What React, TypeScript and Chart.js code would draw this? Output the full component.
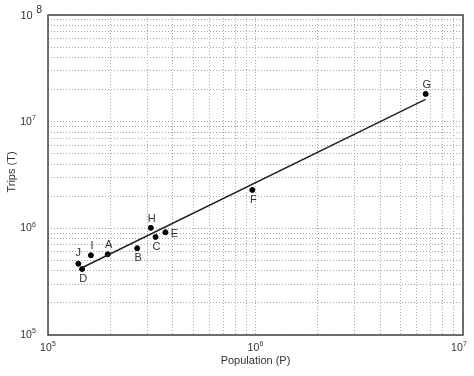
import React, { useEffect, useRef } from "react";
import { Chart, registerables } from "chart.js";

Chart.register(...registerables);

const cities = ["J", "D", "I", "A", "B", "H", "C", "E", "F", "G"];
const population = [1.4e5, 1.46e5, 1.61e5, 1.94e5, 2.69e5, 3.13e5, 3.3e5, 3.68e5, 9.65e5, 6.61e6];
const trips = [4.66e5, 4.16e5, 5.59e5, 5.71e5, 6.5e5, 1.01e6, 8.3e5, 9.18e5, 2.29e6, 1.82e7];
const labelSide = ["aboveLeft", "below", "above", "above", "below", "above", "below", "right", "below", "above"];
const fitPopulation = [1.45e5, 6.6e6];
const fitTrips = [4.25e5, 1.62e7];
const xDecades = [1e5, 1e6, 1e7];
const yDecades = [1e5, 1e6, 1e7, 1e8];
const xTitle = "Population (P)";
const yTitle = "Trips (T)";

const FONT = "'Liberation Sans', Arial, sans-serif";
const TEXT = "#333";

function minorTicks(decades: number[]) {
  const out: { value: number }[] = [];
  for (let i = 0; i < decades.length; i++) {
    out.push({ value: decades[i] });
    if (i < decades.length - 1) {
      for (let m = 2; m <= 9; m++) out.push({ value: decades[i] * m });
    }
  }
  return out;
}

function drawPow(ctx: CanvasRenderingContext2D, value: number, x: number, y: number, align: "center" | "right", bigSup = false) {
  const exp = String(Math.round(Math.log10(value)));
  const baseFont = bigSup ? `11px ${FONT}` : `10.5px ${FONT}`;
  ctx.font = baseFont;
  const baseW = ctx.measureText("10").width;
  const supFont = bigSup ? `10.5px ${FONT}` : `7px ${FONT}`;
  ctx.font = supFont;
  const gap = bigSup ? 3.5 : 0.3;
  const supW = ctx.measureText(exp).width;
  const total = baseW + gap + supW;
  const startX = align === "center" ? x - total / 2 : x - total;
  ctx.textBaseline = "middle";
  ctx.textAlign = "left";
  ctx.fillStyle = TEXT;
  ctx.font = baseFont;
  ctx.fillText("10", startX, y);
  ctx.font = supFont;
  ctx.fillText(exp, startX + baseW + gap, y - (bigSup ? 6 : 3.5));
}

const overlay = {
  id: "overlay",
  afterDraw(chart: any) {
    const { ctx, chartArea: a, scales } = chart;
    const xs = scales.x;
    const ys = scales.y;
    ctx.save();
    ctx.setLineDash([]);
    ctx.strokeStyle = "#444";
    ctx.lineWidth = 1.5;
    ctx.strokeRect(a.left, a.top, a.right - a.left, a.bottom - a.top);

    xDecades.forEach((v, i) => {
      const px = xs.getPixelForValue(v) - (i === xDecades.length - 1 ? 4 : 0);
      drawPow(ctx, v, px, a.bottom + 13, "center");
    });
    yDecades.forEach((v, i) => {
      const py = ys.getPixelForValue(v);
      const last = i === yDecades.length - 1;
      drawPow(ctx, v, last ? 42 : 36, last ? py + 1 : py, "right", last);
    });

    ctx.fillStyle = TEXT;
    ctx.font = `11px ${FONT}`;
    ctx.textAlign = "center";
    ctx.textBaseline = "middle";
    ctx.fillText(xTitle, (a.left + a.right) / 2, a.bottom + 26);
    ctx.save();
    ctx.translate(12, 172);
    ctx.rotate(-Math.PI / 2);
    ctx.fillText(yTitle, 0, 0);
    ctx.restore();

    ctx.font = `11px ${FONT}`;
    cities.forEach((c, i) => {
      const px = xs.getPixelForValue(population[i]);
      const py = ys.getPixelForValue(trips[i]);
      let dx = 0, dy = 0;
      switch (labelSide[i]) {
        case "above": dx = 1; dy = -9; break;
        case "aboveLeft": dx = 0; dy = -11; break;
        case "below": dx = 1; dy = 10; break;
        case "right": dx = 9; dy = 2; break;
      }
      ctx.fillText(c, px + dx, py + dy);
    });
    ctx.restore();
  },
};

const gridOpts = { color: "#a8a8a8", lineWidth: 1, drawTicks: false, tickLength: 0 };
const borderOpts = { display: false, dash: [1, 2] };

export default function App() {
  const ref = useRef<HTMLCanvasElement>(null);
  useEffect(() => {
    document.body.style.margin = "0";
    const chart = new Chart(ref.current!, {
      type: "scatter",
      data: {
        datasets: [
          {
            label: "fit",
            data: fitPopulation.map((x, i) => ({ x, y: fitTrips[i] })),
            showLine: true,
            borderColor: "#222",
            borderWidth: 1.5,
            pointRadius: 0,
          },
          {
            label: "cities",
            data: population.map((x, i) => ({ x, y: trips[i] })),
            backgroundColor: "#000",
            borderColor: "#000",
            pointRadius: 2.5,
          },
        ],
      },
      options: {
        responsive: false,
        animation: false,
        layout: { padding: { left: 48, top: 15, right: 11, bottom: 41 } },
        plugins: { legend: { display: false }, tooltip: { enabled: false } },
        scales: {
          x: {
            type: "logarithmic",
            min: 1e5,
            max: 1e7,
            afterBuildTicks: (s: any) => { s.ticks = minorTicks(xDecades); },
            afterFit: (s: any) => { s.height = 0; },
            ticks: { display: false },
            border: borderOpts,
            grid: gridOpts,
          } as any,
          y: {
            type: "logarithmic",
            min: 1e5,
            max: 1e8,
            afterBuildTicks: (s: any) => { s.ticks = minorTicks(yDecades); },
            afterFit: (s: any) => { s.width = 0; },
            ticks: { display: false },
            border: borderOpts,
            grid: gridOpts,
          } as any,
        },
      },
      plugins: [overlay],
    });
    return () => chart.destroy();
  }, []);
  return (
    <div style={{ width: 474, height: 376, background: "#fff" }}>
      <canvas ref={ref} width={474} height={376} />
    </div>
  );
}
